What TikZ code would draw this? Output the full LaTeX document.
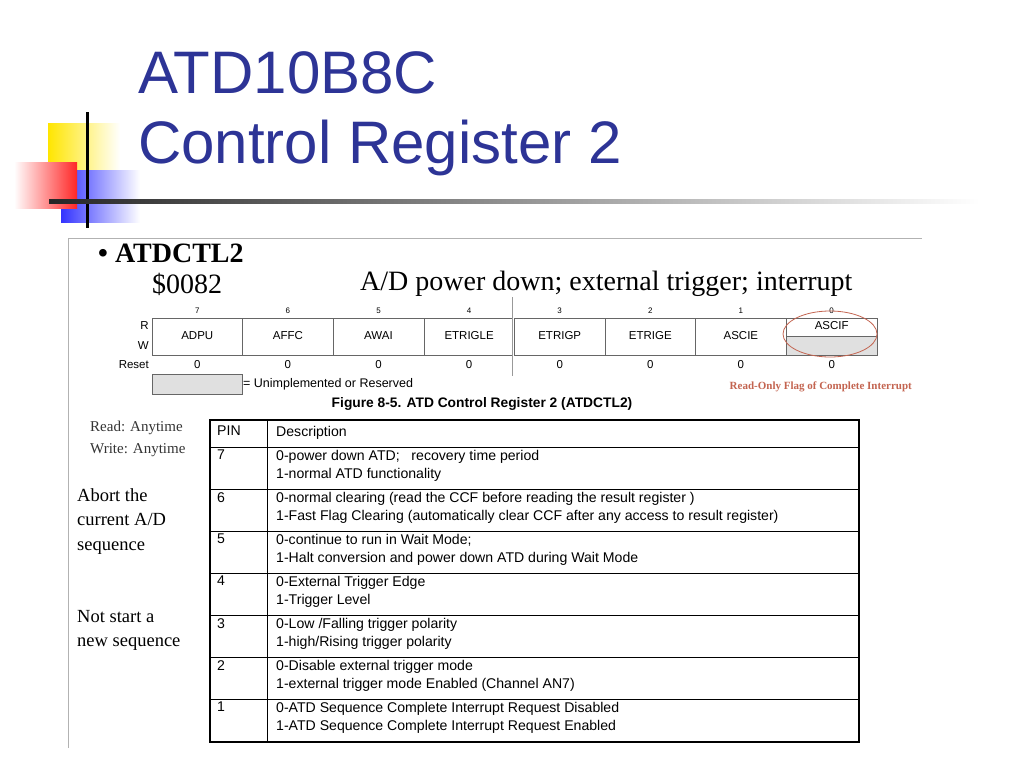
\documentclass[tikz,border=0pt]{standalone}
\usepackage{fontspec}
\setmainfont{Liberation Serif}
\setsansfont{Liberation Sans}
\begin{document}
\begin{tikzpicture}[x=1pt,y=-1pt,
  cellt/.style={font=\sffamily\fontsize{11.5}{12}\selectfont},
  bitt/.style={font=\sffamily\fontsize{8}{9}\selectfont},
  tabt/.style={font=\sffamily\fontsize{14.1}{18}\selectfont,anchor=north west,align=left,inner sep=0pt},
  serift/.style={font=\rmfamily\fontsize{18.5}{24.5}\selectfont,anchor=north west,align=left,inner sep=0pt}]
\useasboundingbox (0,0) rectangle (1024,768);
\definecolor{ttl}{RGB}{45,52,150}
\definecolor{circ}{RGB}{195,100,80}
% decoration
\shade[left color=yellow!80!orange, right color=white] (48,123) rectangle (120,170);
\shade[left color=blue!80, right color=white] (61,170) rectangle (140,222);
\shade[left color=white, right color=red!85] (14,162) rectangle (77,208);
\draw[line width=3pt] (87,112) -- (87,228);
\shade[left color=black!85, right color=white] (49,199) rectangle (980,203);
% title
\node[anchor=west,text=ttl,font=\sffamily\fontsize{60}{64}\selectfont,inner sep=0pt] (t1) at (138,73) {ATD10B8C};
\node[anchor=west,text=ttl,font=\sffamily\fontsize{60}{64}\selectfont,inner sep=0pt] (t2) at (138,148) {Control Register 2};
% panel
\draw[black!30] (68,748) -- (68,238) -- (922,238);
\node[anchor=west,inner sep=0pt,font=\rmfamily\bfseries\fontsize{28}{30}\selectfont] (hd) at (98,253) {• ATDCTL2};
\node[anchor=west,inner sep=0pt,font=\rmfamily\fontsize{28}{30}\selectfont] (ad) at (152,284) {\$0082};
\node[anchor=west,inner sep=0pt,font=\rmfamily\fontsize{28}{30}\selectfont] (ds) at (360,284) {A/D power down; external trigger; interrupt};
% register
\fill[black!12] (786.4,336) rectangle (877,355);
\draw[black!60] (152,318) rectangle (877,355);
\foreach \i/\n/\b in {0/ADPU/7,1/AFFC/6,2/AWAI/5,3/ETRIGLE/4,4/ETRIGP/3,5/ETRIGE/2,6/ASCIE/1}{
  \node[cellt] (c\b) at ({152+90.6*\i+45.3},336) {\n};
  \node[bitt] (n\b) at ({152+90.6*\i+45.3},311) {\b};
  \node[cellt] (r\b) at ({152+90.6*\i+45.3},365) {0};
  \draw[black!60] ({152+90.6*(\i+1)},318) -- ({152+90.6*(\i+1)},355);
}
\draw[black!60] (786.4,336) -- (877,336);
\node[cellt] (c0) at (831.7,326) {ASCIF};
\node[bitt] (n0) at (831.7,311) {0};
\node[cellt] (r0) at (831.7,365) {0};
\node[cellt,anchor=east,inner sep=1pt] (R) at (150,326) {R};
\node[cellt,anchor=east,inner sep=1pt] (W) at (150,346) {W};
\node[cellt,anchor=east,inner sep=1pt] (rs) at (150,365) {Reset};
\draw[black!40,double,double distance=1pt] (513,297) -- (513,376);
\draw[fill=black!12,draw=black!60] (152,374) rectangle (242,394);
\node[anchor=west,inner sep=1pt,font=\sffamily\fontsize{12.5}{14}\selectfont] (un) at (242,384) {= Unimplemented or Reserved};
\node[font=\sffamily\bfseries\fontsize{13.8}{15}\selectfont] (fig) at (482,404) {Figure 8-5. ATD Control Register 2 (ATDCTL2)};
\draw[circ,thick] (830,334) ellipse (47 and 23);
\node[anchor=east,text=circ,font=\rmfamily\bfseries\fontsize{11}{12}\selectfont,inner sep=0pt] (ro) at (912,387) {Read-Only Flag of Complete Interrupt};
% left notes
\node[anchor=west,inner sep=0pt,font=\rmfamily\fontsize{15}{16}\selectfont,text=black!80] (rd) at (90,428) {Read: Anytime};
\node[anchor=west,inner sep=0pt,font=\rmfamily\fontsize{15}{16}\selectfont,text=black!80] (wr) at (90,450) {Write: Anytime};
\node[serift] (ab) at (77,488) {Abort the\\current A/D\\sequence};
\node[serift] (ns) at (77,610) {Not start a\\new sequence};
% table
\draw[line width=1.5pt] (210,420) rectangle (859,742);
\foreach \y in {447,489,531,573,615,657,699}{\draw[line width=1pt] (210,\y) -- (859,\y);}
\draw[line width=1pt] (267,420) -- (267,742);
\node[tabt] (h1) at (217,426) {PIN};
\node[tabt] (h2) at (276,426) {Description};
\foreach \p/\y/\t in {7/450/{0-power down ATD;\ \ \ recovery time period\\1-normal ATD functionality},
 6/492/{0-normal clearing (read the CCF before reading the result register )\\1-Fast Flag Clearing (automatically clear CCF after any access to result register)},
 5/534/{0-continue to run in Wait Mode;\\1-Halt conversion and power down ATD during Wait Mode},
 4/576/{0-External Trigger Edge\\1-Trigger Level},
 3/618/{0-Low /Falling trigger polarity\\1-high/Rising trigger polarity},
 2/660/{0-Disable external trigger mode\\1-external trigger mode Enabled (Channel AN7)},
 1/702/{0-ATD Sequence Complete Interrupt Request Disabled\\1-ATD Sequence Complete Interrupt Request Enabled}}{
  \node[tabt] (p\p) at (217,\y) {\p};
  \node[tabt] (d\p) at (276,\y) {\t};
}
\end{tikzpicture}
\end{document}
